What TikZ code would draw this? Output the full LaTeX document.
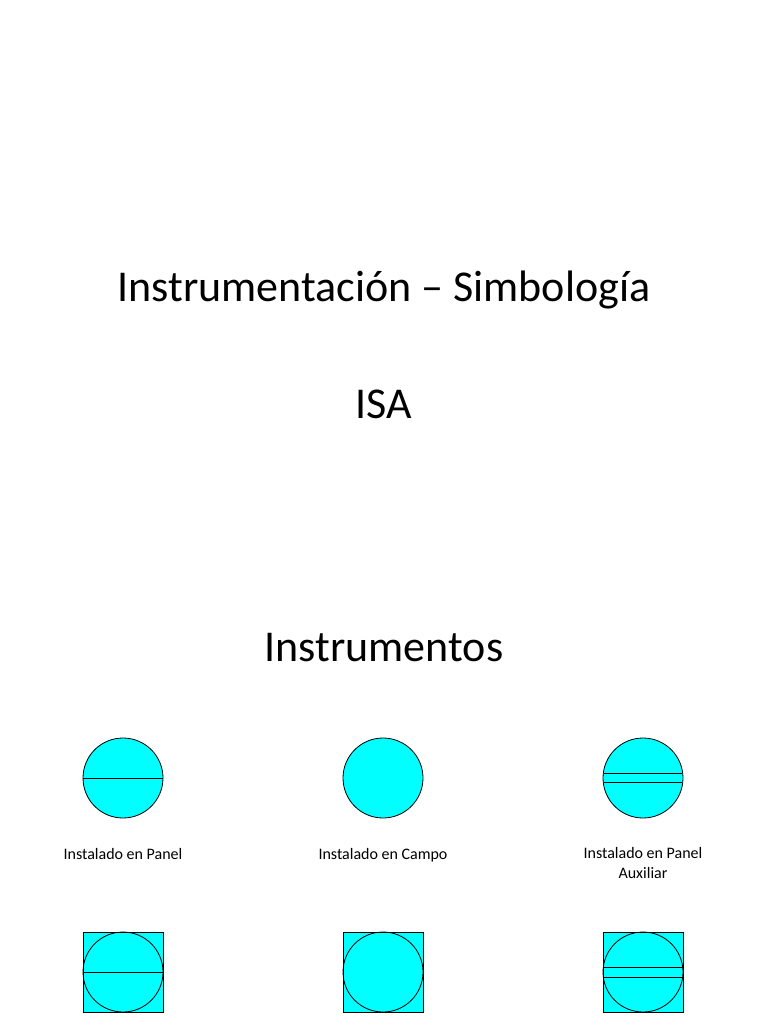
\documentclass[tikz,border=0pt]{standalone}
\usepackage{fontspec}
\setmainfont{Carlito}
\definecolor{cy}{HTML}{00FFFF}
\begin{document}
\begin{tikzpicture}[x=1pt,y=-1pt,
  sym/.style={draw=black,fill=cy,line width=0.8pt},
  lbl/.style={font=\fontsize{16}{20}\selectfont,align=center},
  big/.style={font=\fontsize{44}{50}\selectfont}]
\useasboundingbox (0,0) rectangle (768,1024);
\node[big] (t1) at (384,290) {Instrumentación – Simbología};
\node[big] (t2) at (384,404) {ISA};
\node[big] (t3) at (384,648) {Instrumentos};
% row 1
\draw[sym] (123,778) circle (40);
\draw[line width=0.8pt] (83,778) -- (163,778);
\draw[sym] (383,778) circle (40);
\draw[sym] (643,778) circle (40);
\draw[line width=0.8pt] (603.7,773) -- (682.3,773) (603.7,782) -- (682.3,782);
\node[lbl] (l1) at (123,854) {Instalado en Panel};
\node[lbl] (l2) at (383,855) {Instalado en Campo};
\node[lbl] (l3) at (643,863) {Instalado en Panel\\Auxiliar};
% row 2
\foreach \x in {123,383,643}{
  \draw[sym] (\x-40,932) rectangle (\x+40,1012);
  \draw[line width=0.8pt] (\x,972) circle (40);
}
\draw[line width=0.8pt] (83,972) -- (163,972);
\draw[line width=0.8pt] (603.4,967) -- (682.6,967) (603.4,977) -- (682.6,977);
\end{tikzpicture}
\end{document}
